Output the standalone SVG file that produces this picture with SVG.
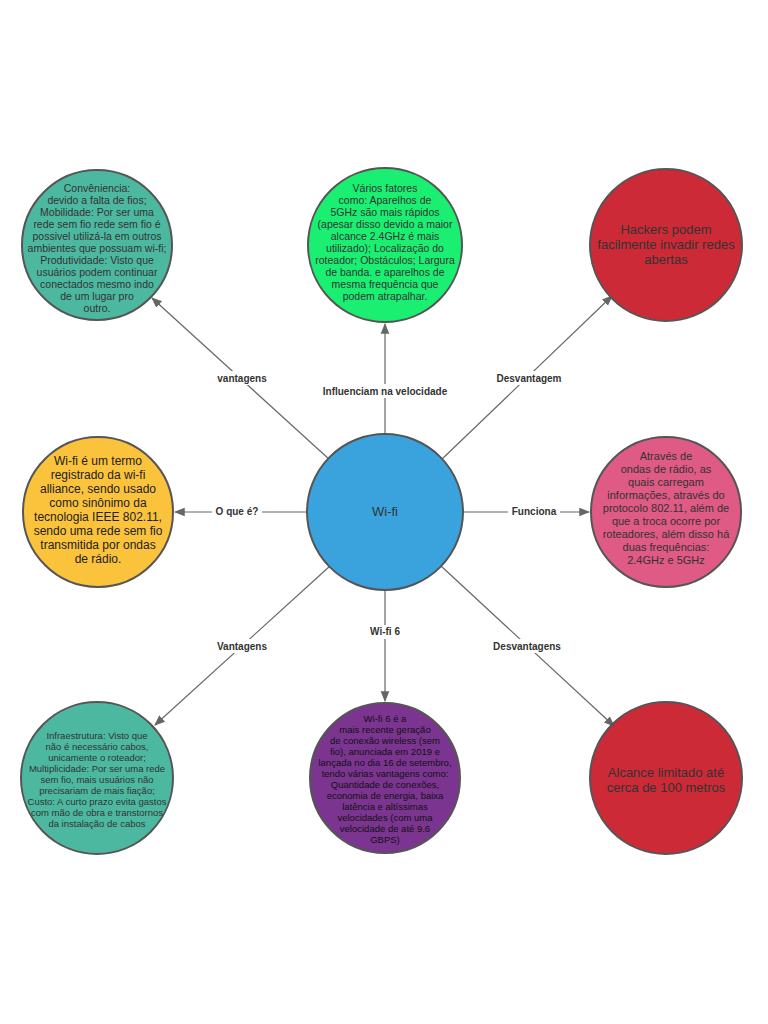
<svg xmlns="http://www.w3.org/2000/svg" width="768" height="1024" viewBox="0 0 768 1024">
<style>
.n{stroke:#555;stroke-width:2}
.t{font-family:"Liberation Sans",Arial,sans-serif;font-size:10.5px;fill:#333;text-anchor:middle}
.s{font-size:9.5px}
.b{font-size:13px}
.l{font-family:"Liberation Sans",Arial,sans-serif;font-size:10px;font-weight:bold;fill:#333;text-anchor:middle}
.c{stroke:#666;stroke-width:1.2;fill:none;marker-end:url(#a)}
</style>
<defs><marker id="a" viewBox="0 0 10 10" refX="9" refY="5" markerWidth="9" markerHeight="9" orient="auto"><path d="M0,1 L10,5 L0,9 Z" fill="#666"/></marker></defs>
<rect width="768" height="1024" fill="#fff"/>
<g id="connectors">
<path class="c" d="M330,460 L152,298"/>
<path class="c" d="M385,434 L385,324"/>
<path class="c" d="M441,460 L612,296"/>
<path class="c" d="M307,512 L175,512"/>
<path class="c" d="M463,512 L589,512"/>
<path class="c" d="M330,566 L155,725"/>
<path class="c" d="M385,590 L385,701"/>
<path class="c" d="M441,566 L614,726"/>
<g>
<rect x="214" y="371" width="56" height="14" fill="#fff"/><text class="l" x="242" y="382">vantagens</text>
<rect x="318" y="384" width="134" height="14" fill="#fff"/><text class="l" x="385" y="395">Influenciam na velocidade</text>
<rect x="492" y="371" width="74" height="14" fill="#fff"/><text class="l" x="529" y="382">Desvantagem</text>
<rect x="212" y="505" width="50" height="14" fill="#fff"/><text class="l" x="237" y="515">O que é?</text>
<rect x="508" y="505" width="52" height="14" fill="#fff"/><text class="l" x="534" y="515">Funciona</text>
<rect x="212" y="639" width="60" height="14" fill="#fff"/><text class="l" x="242" y="650">Vantagens</text>
<rect x="364" y="625" width="42" height="14" fill="#fff"/><text class="l" x="385" y="635">Wi-fi 6</text>
<rect x="488" y="639" width="78" height="14" fill="#fff"/><text class="l" x="527" y="650">Desvantagens</text>
</g>
</g>
<g id="n1"><circle class="n" cx="97" cy="245" r="75" fill="#4db8a0"/>
<text class="t"><tspan x="97" y="192">Convêniencia:</tspan><tspan x="97" y="204">devido a falta de fios;</tspan><tspan x="97" y="216">Mobilidade: Por ser uma</tspan><tspan x="97" y="228">rede sem fio rede sem fio é</tspan><tspan x="97" y="240">possivel utilizá-la em outros</tspan><tspan x="97" y="252">ambientes que possuam wi-fi;</tspan><tspan x="97" y="264">Produtividade: Visto que</tspan><tspan x="97" y="276">usuários podem continuar</tspan><tspan x="97" y="288">conectados mesmo indo</tspan><tspan x="97" y="300">de um lugar pro</tspan><tspan x="97" y="312">outro.</tspan></text></g>
<g id="n2"><circle class="n" cx="385" cy="245" r="77" fill="#1aef72"/>
<text class="t"><tspan x="385" y="192">Vários fatores</tspan><tspan x="385" y="204">como: Aparelhos de</tspan><tspan x="385" y="216">5GHz são mais rápidos</tspan><tspan x="385" y="228">(apesar disso devido a maior</tspan><tspan x="385" y="240">alcance 2.4GHz é mais</tspan><tspan x="385" y="252">utilizado); Localização do</tspan><tspan x="385" y="264">roteador; Obstáculos; Largura</tspan><tspan x="385" y="276">de banda. e aparelhos de</tspan><tspan x="385" y="288">mesma frequência que</tspan><tspan x="385" y="300">podem atrapalhar.</tspan></text></g>
<g id="n3"><circle class="n" cx="666" cy="245" r="76" fill="#cc2a36"/>
<text class="t b"><tspan x="666" y="234">Hackers podem</tspan><tspan x="666" y="249">facilmente invadir redes</tspan><tspan x="666" y="264">abertas</tspan></text></g>
<g id="n4"><circle class="n" cx="98" cy="512" r="75" fill="#fbc23c"/>
<text class="t" style="font-size:12px;fill:#222"><tspan x="98" y="465">Wi-fi é um termo</tspan><tspan x="98" y="479">registrado da wi-fi</tspan><tspan x="98" y="493">alliance, sendo usado</tspan><tspan x="98" y="507">como sinônimo da</tspan><tspan x="98" y="521">tecnologia IEEE 802.11,</tspan><tspan x="98" y="535">sendo uma rede sem fio</tspan><tspan x="98" y="549">transmitida por ondas</tspan><tspan x="98" y="563">de rádio.</tspan></text></g>
<g id="n5"><circle class="n" cx="385" cy="512" r="78" fill="#3aa3de"/>
<text class="t b" x="385" y="516">Wi-fi</text></g>
<g id="n6"><circle class="n" cx="666" cy="512" r="75" fill="#df5a85"/>
<text class="t" style="font-size:11px"><tspan x="666" y="460">Através de</tspan><tspan x="666" y="473">ondas de rádio, as</tspan><tspan x="666" y="486">quais carregam</tspan><tspan x="666" y="499">informações, através do</tspan><tspan x="666" y="512">protocolo 802.11, além de</tspan><tspan x="666" y="525">que a troca ocorre por</tspan><tspan x="666" y="538">roteadores, além disso há</tspan><tspan x="666" y="551">duas frequências:</tspan><tspan x="666" y="564">2.4GHz e 5GHz</tspan></text></g>
<g id="n7"><circle class="n" cx="97" cy="778" r="76" fill="#4db8a0"/>
<text class="t s"><tspan x="97" y="739">Infraestrutura: Visto que</tspan><tspan x="97" y="750">não é necessário cabos,</tspan><tspan x="97" y="761">unicamente o roteador;</tspan><tspan x="97" y="772">Multiplicidade: Por ser uma rede</tspan><tspan x="97" y="783">sem fio, mais usuários não</tspan><tspan x="97" y="794">precisariam de mais fiação;</tspan><tspan x="97" y="805">Custo: A curto prazo evita gastos</tspan><tspan x="97" y="816">com mão de obra e transtornos</tspan><tspan x="97" y="827">da instalação de cabos</tspan></text></g>
<g id="n8"><circle class="n" cx="385" cy="778" r="75" fill="#7b3590"/>
<text class="t s" style="fill:#111"><tspan x="385" y="722">Wi-fi 6 é a</tspan><tspan x="385" y="733">mais recente geração</tspan><tspan x="385" y="744">de conexão wireless (sem</tspan><tspan x="385" y="755">fio), anunciada em 2019 e</tspan><tspan x="385" y="766">lançada no dia 16 de setembro,</tspan><tspan x="385" y="777">tendo várias vantagens como:</tspan><tspan x="385" y="788">Quantidade de conexões,</tspan><tspan x="385" y="799">economia de energia, baixa</tspan><tspan x="385" y="810">latência e altíssimas</tspan><tspan x="385" y="821">velocidades (com uma</tspan><tspan x="385" y="832">velocidade de até 9.6</tspan><tspan x="385" y="843">GBPS)</tspan></text></g>
<g id="n9"><circle class="n" cx="666" cy="778" r="76" fill="#cc2a36"/>
<text class="t b"><tspan x="666" y="777">Alcance limitado até</tspan><tspan x="666" y="792">cerca de 100 metros</tspan></text></g>
</svg>
